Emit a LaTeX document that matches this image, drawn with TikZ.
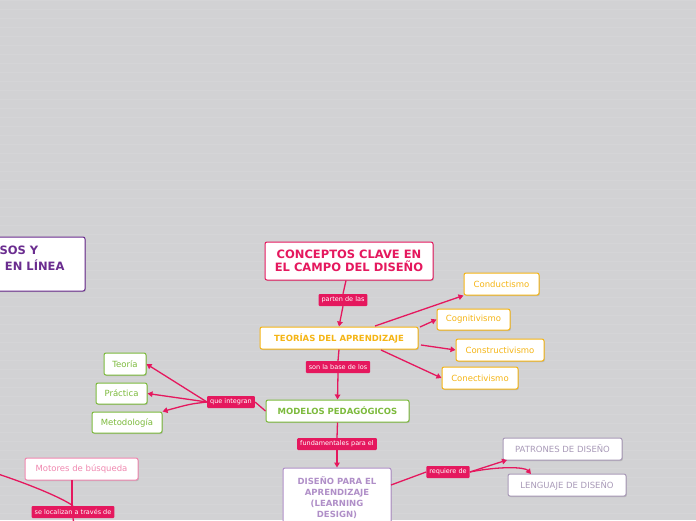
\documentclass[tikz,border=0pt]{standalone}
\usepackage{fontspec}
\setmainfont{DejaVu Sans}
\usetikzlibrary{shadows,arrows.meta}
\definecolor{bg}{HTML}{D2D2D4}
\definecolor{pk}{HTML}{E5185E}
\definecolor{org}{HTML}{F5B515}
\definecolor{grn}{HTML}{7CBA3C}
\definecolor{pur}{HTML}{6A2C8F}
\definecolor{lpur}{HTML}{B08FC8}
\definecolor{gpur}{HTML}{A99AB8}
\definecolor{lpk}{HTML}{F088B0}
\tikzset{
 box/.style={draw=#1, line width=1pt, fill=white, rounded corners=2pt, drop shadow={shadow xshift=0.8pt,shadow yshift=-1pt,opacity=0.35}, inner sep=0pt},
 lbl/.style={fill=pk, text=white, font=\fontsize{6.5}{7}\selectfont, inner xsep=3pt, inner ysep=2pt, minimum height=12pt, rounded corners=1pt},
 con/.style={draw=pk, line width=1.3pt, -{Triangle[length=5pt,width=5.5pt]}},
 ln/.style={draw=pk, line width=1.3pt},
}
\begin{document}
\begin{tikzpicture}[x=1pt,y=-1pt]
\useasboundingbox (0,0) rectangle (696,520);
\fill[bg] (0,0) rectangle (696,520);
\begin{scope}
\clip (0,0) rectangle (696,520);
\foreach \y in {0,9,...,520}{\draw[white,opacity=0.07,line width=0.5pt] (0,\y) -- (696,\y);}
% left purple box
\node[box=pur, minimum width=92pt, minimum height=54pt] (rec) at (39,264) {};
\node[anchor=west, text=pur, font=\bfseries\fontsize{11.5}{13}\selectfont] (rec1) at (-4,250) {SOS Y};
\node[anchor=east, text=pur, font=\bfseries\fontsize{11.5}{13}\selectfont] (rec2) at (68,265) {EN LÍNEA};
% motores
\node[box=lpk, minimum width=113pt, minimum height=22pt, text=lpk, font=\fontsize{8.5}{10}\selectfont] (mot) at (81.5,469) {Motores de búsqueda};
\node[lbl] (lloc) at (73,512) {se localizan a través de};
\coordinate (mb) at (72,480);
\draw[ln] (mb) -- (lloc.north -| mb);
\coordinate (lf) at (-2,474);
\draw[ln] (lf) .. controls (40,488) and (65,500) .. (lloc.north);
\draw[ln] (lloc.south) -- (74,524);
\end{scope}

\node[box=pk, minimum width=168pt, minimum height=38pt, text=pk, align=center, font=\bfseries\fontsize{11.5}{13.5}\selectfont] (cc) at (349,261) {CONCEPTOS CLAVE EN\\EL CAMPO DEL DISEÑO};
\node[box=org, minimum width=158pt, minimum height=22pt, text=org, font=\bfseries\fontsize{8.5}{10}\selectfont] (teo) at (339,338) {TEORÍAS DEL APRENDIZAJE};
\node[box=org, minimum width=75pt, minimum height=22pt, text=org, font=\fontsize{8.5}{10}\selectfont] (c1) at (501.5,284) {Conductismo};
\node[box=org, minimum width=73pt, minimum height=21pt, text=org, font=\fontsize{8.5}{10}\selectfont] (c2) at (473.5,319.5) {Cognitivismo};
\node[box=org, minimum width=88pt, minimum height=22pt, text=org, font=\fontsize{8.5}{10}\selectfont] (c3) at (500,350) {Constructivismo};
\node[box=org, minimum width=76pt, minimum height=22pt, text=org, font=\fontsize{8.5}{10}\selectfont] (c4) at (480,378) {Conectivismo};
\node[box=grn, minimum width=143pt, minimum height=22pt, text=grn, font=\bfseries\fontsize{8.5}{10}\selectfont] (mod) at (337.5,411) {MODELOS PEDAGÓGICOS};
\node[box=grn, minimum width=42pt, minimum height=22pt, text=grn, font=\fontsize{8.5}{10}\selectfont] (t1) at (125,364) {Teoría};
\node[box=grn, minimum width=51pt, minimum height=21pt, text=grn, font=\fontsize{8.5}{10}\selectfont] (t2) at (121.5,393.5) {Práctica};
\node[box=grn, minimum width=70pt, minimum height=21pt, text=grn, font=\fontsize{8.5}{10}\selectfont] (t3) at (127,422.5) {Metodología};
\node[box=lpur, minimum width=108pt, minimum height=60pt, text=lpur, align=center, font=\bfseries\fontsize{8.5}{11}\selectfont] (dis) at (337,498) {DISEÑO PARA EL\\APRENDIZAJE\\(LEARNING\\DESIGN)};
\node[box=gpur, minimum width=119pt, minimum height=22pt, text=gpur, font=\fontsize{8.5}{10}\selectfont] (pat) at (562.5,449) {PATRONES DE DISEÑO};
\node[box=gpur, minimum width=118pt, minimum height=22pt, text=gpur, font=\fontsize{8.5}{10}\selectfont] (len) at (567,485) {LENGUAJE DE DISEÑO};

\node[lbl] (l1) at (343,300) {parten de las};
\node[lbl] (l2) at (338,367) {son la base de los};
\node[lbl] (l3) at (231,402) {que integran};
\node[lbl] (l4) at (337,444) {fundamentales para el};
\node[lbl] (l5) at (448,472) {requiere de};

\draw[ln] (cc.south) ++(-3,0) -- (l1.north);
\draw[con] (l1.south) -- (teo.north);
\draw[con] (375,326) -- (c1.south west);
\draw[con] (420,327) -- (c2.west);
\draw[con] (421,345) -- (c3.west);
\draw[con] (381,350) -- (c4.west);
\draw[ln] (teo.south) -- (l2.north);
\draw[con] (l2.south) -- (mod.north);
\draw[ln] (mod.west) -- (l3.east);
\draw[con] (l3.west) -- (t1.east);
\draw[con] (l3.west) -- (t2.east);
\draw[con] (l3.west) .. controls (190,404) .. (t3.north east);
\draw[ln] (mod.south) -- (l4.north);
\draw[con] (l4.south) -- (dis.north);
\draw[ln] (391,485) -- (l5.west);
\draw[con] (l5.east) -- (507,460);
\draw[con] (l5.east) .. controls (500,466) and (525,467) .. (531,474);
\end{tikzpicture}
\end{document}
